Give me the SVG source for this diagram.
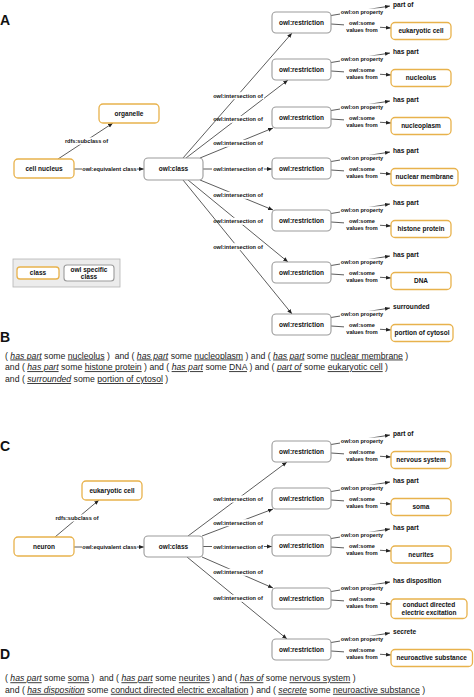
<svg xmlns="http://www.w3.org/2000/svg" width="474" height="697" viewBox="0 0 474 697">
<style>
text{font-family:"Liberation Sans",Arial,sans-serif;fill:#111}
.cls{fill:#fff;stroke:#e8b24c;stroke-width:1.3}
.owl{fill:#fff;stroke:#9b9b9b;stroke-width:1.1}
.nt{font-size:6.5px;font-weight:bold;text-anchor:middle}
.el{font-size:5.6px;font-weight:bold;text-anchor:middle}
.pl{font-size:6.6px;font-weight:bold}
.pan{font-size:14px;font-weight:bold}
.bg{fill:#fff}
.e{stroke:#333;stroke-width:0.8;fill:none;marker-end:url(#ah)}
.tx{font-size:8.7px;fill:#222}
.p{font-style:italic;text-decoration:underline}
.u{text-decoration:underline}
</style>
<defs>
<marker id="ah" viewBox="0 0 10 10" refX="10" refY="5" markerWidth="5" markerHeight="5" orient="auto" markerUnits="userSpaceOnUse"><path d="M0,1 L10,5 L0,9 z" fill="#222"/></marker>
</defs>

<!-- panel letters -->
<text class="pan" x="0" y="25">A</text>
<text class="pan" x="0" y="342">B</text>
<text class="pan" x="0" y="451">C</text>
<text class="pan" x="0" y="659">D</text>

<!-- ===== connectors ===== -->
<g id="connectors">
<!-- A -->
<line class="e" x1="58" y1="159" x2="113" y2="123"/>
<rect class="bg" x="64.5" y="137.5" width="44" height="7"/>
<text class="el" x="86.5" y="143">rdfs:subclass of</text>
<line class="e" x1="74" y1="169" x2="144" y2="169"/>
<rect class="bg" x="82" y="165.5" width="55" height="7"/>
<text class="el" x="109.5" y="171">owl:equivalent class</text>

<line class="e" x1="203" y1="169" x2="272" y2="169"/>
<rect class="bg" x="212" y="165.8" width="52" height="7"/>
<text class="el" x="238" y="171.3">owl:intersection of</text>
<line class="e" x1="200" y1="158" x2="273" y2="128"/>
<rect class="bg" x="212" y="139.8" width="52" height="7"/>
<text class="el" x="238" y="145.3">owl:intersection of</text>
<line class="e" x1="200" y1="180" x2="273" y2="210"/>
<rect class="bg" x="212" y="191.8" width="52" height="7"/>
<text class="el" x="238" y="197.3">owl:intersection of</text>
<line class="e" x1="186" y1="158" x2="288" y2="80"/>
<rect class="bg" x="212" y="115.8" width="52" height="7"/>
<text class="el" x="238" y="121.3">owl:intersection of</text>
<line class="e" x1="188" y1="180" x2="288" y2="262"/>
<rect class="bg" x="212" y="217.8" width="52" height="7"/>
<text class="el" x="238" y="223.3">owl:intersection of</text>
<line class="e" x1="183" y1="158" x2="292" y2="33"/>
<rect class="bg" x="212" y="92.2" width="52" height="7"/>
<text class="el" x="238" y="97.7">owl:intersection of</text>
<line class="e" x1="183" y1="180" x2="292" y2="314"/>
<rect class="bg" x="212" y="243.2" width="52" height="7"/>
<text class="el" x="238" y="248.7">owl:intersection of</text>

<!-- restriction outgoing A -->
<g id="rA1e">
<line class="e" x1="331" y1="15.5" x2="390" y2="6"/><rect class="bg" x="340" y="8.5" width="44" height="6.5"/><text class="el" x="362" y="13.5">owl:on property</text>
<line class="e" x1="331" y1="24" x2="391" y2="28"/><rect class="bg" x="344" y="20.5" width="36" height="13"/><text class="el" x="362" y="25.3">owl:some</text><text class="el" x="362" y="32.3">values from</text>
</g>
<g id="rA2e">
<line class="e" x1="331" y1="62.5" x2="390" y2="53"/><rect class="bg" x="340" y="55.5" width="44" height="6.5"/><text class="el" x="362" y="60.5">owl:on property</text>
<line class="e" x1="331" y1="71" x2="391" y2="75"/><rect class="bg" x="344" y="67.5" width="36" height="13"/><text class="el" x="362" y="72.3">owl:some</text><text class="el" x="362" y="79.3">values from</text>
</g>
<g id="rA3e">
<line class="e" x1="331" y1="110.5" x2="390" y2="101"/><rect class="bg" x="340" y="103.5" width="44" height="6.5"/><text class="el" x="362" y="108.5">owl:on property</text>
<line class="e" x1="331" y1="119" x2="391" y2="123"/><rect class="bg" x="344" y="115.5" width="36" height="13"/><text class="el" x="362" y="120.3">owl:some</text><text class="el" x="362" y="127.3">values from</text>
</g>
<g id="rA4e">
<line class="e" x1="331" y1="161.5" x2="390" y2="152"/><rect class="bg" x="340" y="154.5" width="44" height="6.5"/><text class="el" x="362" y="159.5">owl:on property</text>
<line class="e" x1="331" y1="170" x2="391" y2="174"/><rect class="bg" x="344" y="166.5" width="36" height="13"/><text class="el" x="362" y="171.3">owl:some</text><text class="el" x="362" y="178.3">values from</text>
</g>
<g id="rA5e">
<line class="e" x1="331" y1="213.5" x2="390" y2="204"/><rect class="bg" x="340" y="206.5" width="44" height="6.5"/><text class="el" x="362" y="211.5">owl:on property</text>
<line class="e" x1="331" y1="222" x2="391" y2="226"/><rect class="bg" x="344" y="218.5" width="36" height="13"/><text class="el" x="362" y="223.3">owl:some</text><text class="el" x="362" y="230.3">values from</text>
</g>
<g id="rA6e">
<line class="e" x1="331" y1="265.5" x2="390" y2="256"/><rect class="bg" x="340" y="258.5" width="44" height="6.5"/><text class="el" x="362" y="263.5">owl:on property</text>
<line class="e" x1="331" y1="274" x2="391" y2="278"/><rect class="bg" x="344" y="270.5" width="36" height="13"/><text class="el" x="362" y="275.3">owl:some</text><text class="el" x="362" y="282.3">values from</text>
</g>
<g id="rA7e">
<line class="e" x1="331" y1="317.5" x2="390" y2="308"/><rect class="bg" x="340" y="310.5" width="44" height="6.5"/><text class="el" x="362" y="315.5">owl:on property</text>
<line class="e" x1="331" y1="326" x2="391" y2="330"/><rect class="bg" x="344" y="322.5" width="36" height="13"/><text class="el" x="362" y="327.3">owl:some</text><text class="el" x="362" y="334.3">values from</text>
</g>

<!-- C -->
<line class="e" x1="55" y1="537" x2="99" y2="500"/>
<rect class="bg" x="55" y="514.5" width="44" height="7"/>
<text class="el" x="77" y="520">rdfs:subclass of</text>
<line class="e" x1="74" y1="547" x2="144" y2="547"/>
<rect class="bg" x="82" y="543.5" width="55" height="7"/>
<text class="el" x="109.5" y="549">owl:equivalent class</text>

<line class="e" x1="203" y1="546.5" x2="272" y2="546.5"/>
<rect class="bg" x="212" y="543.2" width="52" height="7"/>
<text class="el" x="238" y="548.7">owl:intersection of</text>
<line class="e" x1="202" y1="536" x2="273" y2="509"/>
<rect class="bg" x="212" y="519.2" width="52" height="7"/>
<text class="el" x="238" y="524.7">owl:intersection of</text>
<line class="e" x1="202" y1="557" x2="273" y2="588"/>
<rect class="bg" x="212" y="568.8" width="52" height="7"/>
<text class="el" x="238" y="574.3">owl:intersection of</text>
<line class="e" x1="188" y1="536" x2="287" y2="462"/>
<rect class="bg" x="212" y="495.5" width="52" height="7"/>
<text class="el" x="238" y="501">owl:intersection of</text>
<line class="e" x1="187" y1="557" x2="287" y2="639"/>
<rect class="bg" x="212" y="594.8" width="52" height="7"/>
<text class="el" x="238" y="600.3">owl:intersection of</text>

<g id="rC1e">
<line class="e" x1="331" y1="444.5" x2="390" y2="435"/><rect class="bg" x="340" y="437.5" width="44" height="6.5"/><text class="el" x="362" y="442.5">owl:on property</text>
<line class="e" x1="331" y1="453" x2="391" y2="457"/><rect class="bg" x="344" y="449.5" width="36" height="13"/><text class="el" x="362" y="454.3">owl:some</text><text class="el" x="362" y="461.3">values from</text>
</g>
<g id="rC2e">
<line class="e" x1="331" y1="491.5" x2="390" y2="482"/><rect class="bg" x="340" y="484.5" width="44" height="6.5"/><text class="el" x="362" y="489.5">owl:on property</text>
<line class="e" x1="331" y1="500" x2="391" y2="504"/><rect class="bg" x="344" y="496.5" width="36" height="13"/><text class="el" x="362" y="501.3">owl:some</text><text class="el" x="362" y="508.3">values from</text>
</g>
<g id="rC3e">
<line class="e" x1="331" y1="538.5" x2="390" y2="529"/><rect class="bg" x="340" y="531.5" width="44" height="6.5"/><text class="el" x="362" y="536.5">owl:on property</text>
<line class="e" x1="331" y1="547" x2="391" y2="551"/><rect class="bg" x="344" y="543.5" width="36" height="13"/><text class="el" x="362" y="548.3">owl:some</text><text class="el" x="362" y="555.3">values from</text>
</g>
<g id="rC4e">
<line class="e" x1="331" y1="591.5" x2="390" y2="582"/><rect class="bg" x="340" y="584.5" width="44" height="6.5"/><text class="el" x="362" y="589.5">owl:on property</text>
<line class="e" x1="331" y1="600" x2="391" y2="604"/><rect class="bg" x="344" y="596.5" width="36" height="13"/><text class="el" x="362" y="601.3">owl:some</text><text class="el" x="362" y="608.3">values from</text>
</g>
<g id="rC5e">
<line class="e" x1="331" y1="642.5" x2="390" y2="633"/><rect class="bg" x="340" y="635.5" width="44" height="6.5"/><text class="el" x="362" y="640.5">owl:on property</text>
<line class="e" x1="331" y1="651" x2="391" y2="655"/><rect class="bg" x="344" y="647.5" width="36" height="13"/><text class="el" x="362" y="652.3">owl:some</text><text class="el" x="362" y="659.3">values from</text>
</g>
</g>

<!-- ===== nodes panel A ===== -->
<g id="organelle"><rect class="cls" x="99" y="104" width="60" height="19" rx="4"/><text class="nt" x="129" y="116.3">organelle</text></g>
<g id="cell-nucleus"><rect class="cls" x="14" y="159" width="60" height="19" rx="4"/><text class="nt" x="44" y="171.3">cell nucleus</text></g>
<g id="owl-class-A"><rect class="owl" x="144" y="158" width="59" height="22" rx="4"/><text class="nt" x="173.5" y="171.3">owl:class</text></g>

<g id="rA1"><rect class="owl" x="272" y="12" width="59" height="21" rx="4"/><text class="nt" x="301.5" y="24.8">owl:restriction</text></g>
<g id="rA2"><rect class="owl" x="272" y="59" width="59" height="21" rx="4"/><text class="nt" x="301.5" y="71.8">owl:restriction</text></g>
<g id="rA3"><rect class="owl" x="272" y="107" width="59" height="21" rx="4"/><text class="nt" x="301.5" y="119.8">owl:restriction</text></g>
<g id="rA4"><rect class="owl" x="272" y="158" width="59" height="21" rx="4"/><text class="nt" x="301.5" y="170.8">owl:restriction</text></g>
<g id="rA5"><rect class="owl" x="272" y="210" width="59" height="21" rx="4"/><text class="nt" x="301.5" y="222.8">owl:restriction</text></g>
<g id="rA6"><rect class="owl" x="272" y="262" width="59" height="21" rx="4"/><text class="nt" x="301.5" y="274.8">owl:restriction</text></g>
<g id="rA7"><rect class="owl" x="272" y="314" width="59" height="21" rx="4"/><text class="nt" x="301.5" y="326.8">owl:restriction</text></g>

<g id="pA1"><text class="pl" x="393" y="7">part of</text></g>
<g id="pA2"><text class="pl" x="393" y="54">has part</text></g>
<g id="pA3"><text class="pl" x="393" y="102">has part</text></g>
<g id="pA4"><text class="pl" x="393" y="153">has part</text></g>
<g id="pA5"><text class="pl" x="393" y="205">has part</text></g>
<g id="pA6"><text class="pl" x="393" y="257">has part</text></g>
<g id="pA7"><text class="pl" x="393" y="309">surrounded</text></g>

<g id="eukaryotic-cell-A"><rect class="cls" x="391" y="22.5" width="60" height="17" rx="4"/><text class="nt" x="421" y="33.3">eukaryotic cell</text></g>
<g id="nucleolus"><rect class="cls" x="391" y="69.5" width="60" height="17" rx="4"/><text class="nt" x="421" y="80.3">nucleolus</text></g>
<g id="nucleoplasm"><rect class="cls" x="391" y="117.5" width="60" height="17" rx="4"/><text class="nt" x="421" y="128.3">nucleoplasm</text></g>
<g id="nuclear-membrane"><rect class="cls" x="391" y="168.5" width="67" height="17" rx="4"/><text class="nt" x="424.5" y="179.3">nuclear membrane</text></g>
<g id="histone-protein"><rect class="cls" x="391" y="220.5" width="60" height="17" rx="4"/><text class="nt" x="421" y="231.3">histone protein</text></g>
<g id="dna"><rect class="cls" x="391" y="272.5" width="60" height="17" rx="4"/><text class="nt" x="421" y="283.3">DNA</text></g>
<g id="portion-of-cytosol"><rect class="cls" x="391" y="324.5" width="62" height="17" rx="4"/><text class="nt" x="422" y="335.3">portion of cytosol</text></g>

<!-- legend -->
<g id="legend">
<rect x="13" y="259" width="107" height="28" fill="#ececec" stroke="#b5b5b5" stroke-width="0.8"/>
<rect class="cls" x="17" y="267" width="42" height="12" rx="3"/><text class="nt" x="38" y="275.3">class</text>
<rect class="owl" x="64" y="265" width="50" height="16" rx="3"/><text class="nt" x="89" y="272.3">owl specific</text><text class="nt" x="89" y="279">class</text>
</g>

<!-- text B -->
<g id="text-B">
<text class="tx" x="5" y="358.5" xml:space="preserve">( <tspan class="p">has part</tspan> some <tspan class="u">nucleolus</tspan> )  and ( <tspan class="p">has part</tspan> some <tspan class="u">nucleoplasm</tspan> ) and ( <tspan class="p">has part</tspan> some <tspan class="u">nuclear membrane</tspan> )</text>
<text class="tx" x="5" y="370.2" xml:space="preserve">and ( <tspan class="p">has part</tspan> some <tspan class="u">histone protein</tspan> ) and ( <tspan class="p">has part</tspan> some <tspan class="u">DNA</tspan> ) and ( <tspan class="p">part of</tspan> some <tspan class="u">eukaryotic cell</tspan> )</text>
<text class="tx" x="5" y="382" xml:space="preserve">and ( <tspan class="p">surrounded</tspan> some <tspan class="u">portion of cytosol</tspan> )</text>
</g>

<!-- ===== nodes panel C ===== -->
<g id="eukaryotic-cell-C"><rect class="cls" x="82" y="481" width="60" height="19" rx="4"/><text class="nt" x="112" y="493.3">eukaryotic cell</text></g>
<g id="neuron"><rect class="cls" x="14" y="537" width="60" height="19" rx="4"/><text class="nt" x="44" y="549.3">neuron</text></g>
<g id="owl-class-C"><rect class="owl" x="144" y="536" width="59" height="21" rx="4"/><text class="nt" x="173.5" y="548.8">owl:class</text></g>

<g id="rC1"><rect class="owl" x="272" y="441" width="59" height="21" rx="4"/><text class="nt" x="301.5" y="453.8">owl:restriction</text></g>
<g id="rC2"><rect class="owl" x="272" y="488" width="59" height="21" rx="4"/><text class="nt" x="301.5" y="500.8">owl:restriction</text></g>
<g id="rC3"><rect class="owl" x="272" y="535" width="59" height="21" rx="4"/><text class="nt" x="301.5" y="547.8">owl:restriction</text></g>
<g id="rC4"><rect class="owl" x="272" y="588" width="59" height="21" rx="4"/><text class="nt" x="301.5" y="600.8">owl:restriction</text></g>
<g id="rC5"><rect class="owl" x="272" y="639" width="59" height="21" rx="4"/><text class="nt" x="301.5" y="651.8">owl:restriction</text></g>

<g id="pC1"><text class="pl" x="393" y="436">part of</text></g>
<g id="pC2"><text class="pl" x="393" y="483">has part</text></g>
<g id="pC3"><text class="pl" x="393" y="530">has part</text></g>
<g id="pC4"><text class="pl" x="393" y="583">has disposition</text></g>
<g id="pC5"><text class="pl" x="393" y="634">secrete</text></g>

<g id="nervous-system"><rect class="cls" x="391" y="451.5" width="60" height="17" rx="4"/><text class="nt" x="421" y="462.3">nervous system</text></g>
<g id="soma"><rect class="cls" x="391" y="498.5" width="60" height="17" rx="4"/><text class="nt" x="421" y="509.3">soma</text></g>
<g id="neurites"><rect class="cls" x="391" y="546" width="60" height="17" rx="4"/><text class="nt" x="421" y="556.8">neurites</text></g>
<g id="conduct-directed"><rect class="cls" x="391" y="599" width="76" height="19.5" rx="4"/><text class="nt" x="429" y="607.3">conduct directed</text><text class="nt" x="429" y="615">electric excitation</text></g>
<g id="neuroactive-substance"><rect class="cls" x="391" y="649.5" width="81.5" height="17" rx="4"/><text class="nt" x="431.7" y="660.3">neuroactive substance</text></g>

<!-- text D -->
<g id="text-D">
<text class="tx" x="5" y="681.3" xml:space="preserve">( <tspan class="p">has part</tspan> some <tspan class="u">soma</tspan> )  and ( <tspan class="p">has part</tspan> some <tspan class="u">neurites</tspan> ) and ( <tspan class="p">has of</tspan> some <tspan class="u">nervous system</tspan> )</text>
<text class="tx" x="5" y="692.8" xml:space="preserve">and ( <tspan class="p">has disposition</tspan> some <tspan class="u">conduct directed electric excaltation</tspan> ) and ( <tspan class="p">secrete</tspan> some <tspan class="u">neuroactive substance</tspan> )</text>
</g>
</svg>
